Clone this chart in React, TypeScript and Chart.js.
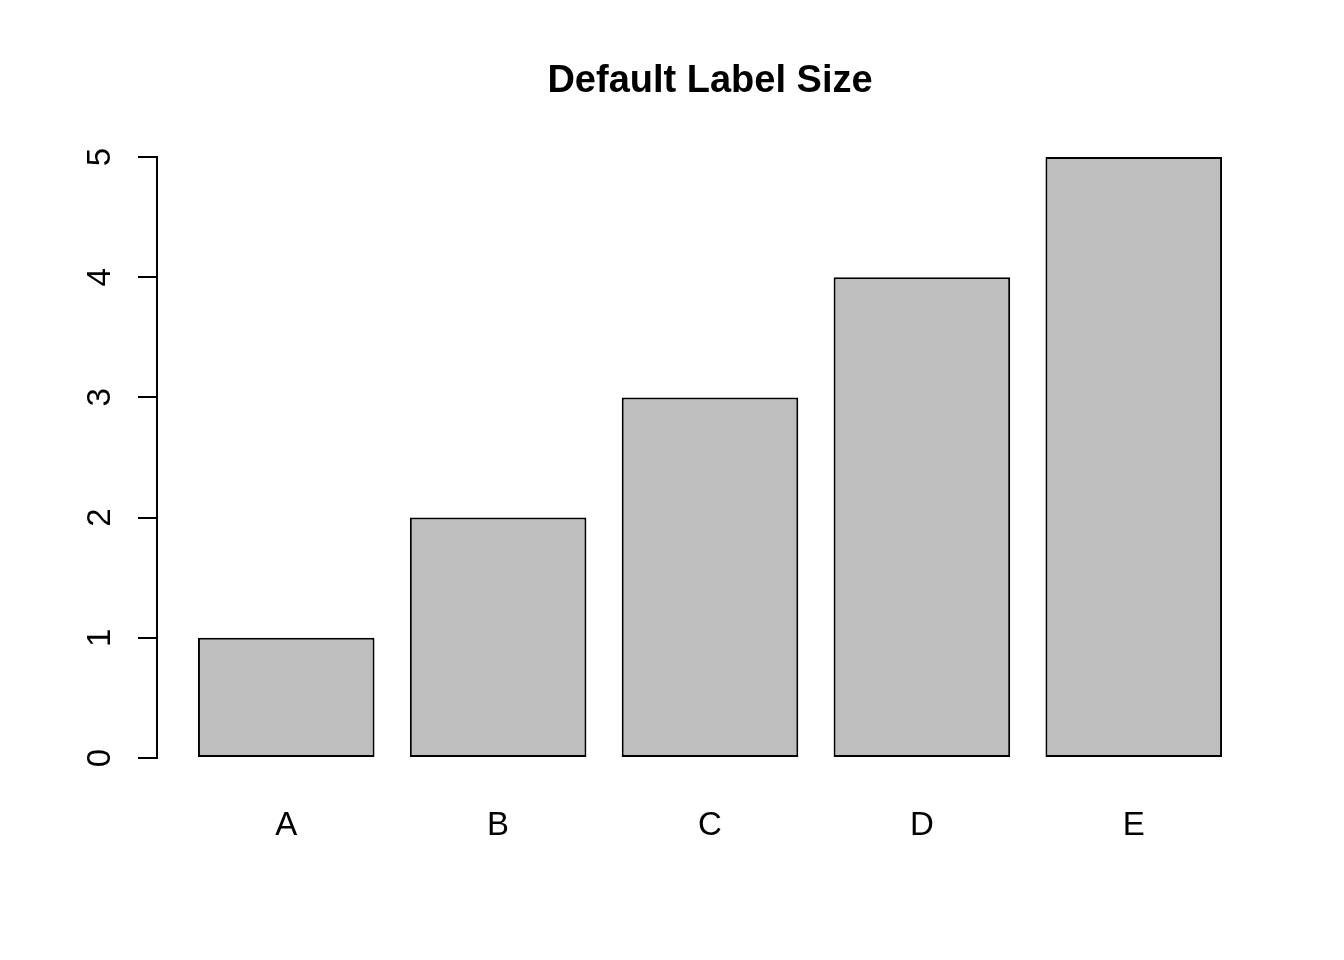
import { useEffect, useRef } from 'react';
import { Chart, registerables } from 'chart.js';

Chart.register(...registerables);

const titleText = 'Default Label Size';
const categories = ['A', 'B', 'C', 'D', 'E'];
const values = [1, 2, 3, 4, 5];
const yTicks = [0, 1, 2, 3, 4, 5];

// R barplot layout: width 1, space 0.2
const barWidth = 1;
const barSpace = 0.2;
const centers = categories.map((_, i) => barSpace + i * (barWidth + barSpace) + barWidth / 2);
const xLo = barSpace;
const xHi = barSpace + categories.length * (barWidth + barSpace) - barSpace;
const xPad = (xHi - xLo) * 0.04;

const FONT = "'Liberation Sans', Arial, sans-serif";

const titlePlugin = {
  id: 'rTitle',
  afterDraw(chart) {
    const { ctx, chartArea } = chart;
    ctx.save();
    ctx.font = `bold 38px ${FONT}`;
    ctx.fillStyle = '#000';
    ctx.textAlign = 'center';
    ctx.textBaseline = 'alphabetic';
    ctx.fillText(titleText, (chartArea.left + chartArea.right) / 2, 92);
    ctx.restore();
  },
};

const App = () => {
  const canvasRef = useRef(null);
  const chartRef = useRef(null);

  useEffect(() => {
    document.body.style.margin = '0';
    if (chartRef.current) chartRef.current.destroy();
    const ctx = canvasRef.current.getContext('2d');

    chartRef.current = new Chart(ctx, {
      type: 'bar',
      data: {
        datasets: [{
          data: values.map((v, i) => ({ x: centers[i], y: v })),
          backgroundColor: '#BEBEBE',
          borderColor: '#000',
          borderWidth: 2,
          borderSkipped: false,
          categoryPercentage: 1,
          barPercentage: barWidth / (barWidth + barSpace),
        }],
      },
      options: {
        animation: false,
        responsive: true,
        maintainAspectRatio: false,
        layout: { padding: { top: 157, right: 81, left: 0, bottom: 0 } },
        plugins: {
          legend: { display: false },
          tooltip: { enabled: false },
          title: { display: false },
        },
        scales: {
          x: {
            type: 'linear',
            min: xLo - xPad,
            max: xHi + xPad,
            offset: false,
            grid: { display: false, drawTicks: false },
            border: { display: false },
            afterBuildTicks: (scale) => {
              scale.ticks = centers.map((c) => ({ value: c }));
            },
            afterFit: (scale) => { scale.height = 202; },
            ticks: {
              autoSkip: false,
              maxRotation: 0,
              padding: 48,
              color: '#000',
              font: { family: FONT, size: 33 },
              callback: (_v, i) => categories[i],
            },
          },
          y: {
            min: yTicks[0],
            max: yTicks[yTicks.length - 1],
            afterBuildTicks: (scale) => {
              scale.ticks = yTicks.map((v) => ({ value: v }));
            },
            afterFit: (scale) => { scale.width = 157; },
            grid: {
              drawOnChartArea: false,
              drawTicks: true,
              tickLength: 19,
              color: '#000',
              lineWidth: 2,
            },
            border: { display: true, color: '#000', width: 2 },
            ticks: {
              minRotation: 90,
              maxRotation: 90,
              crossAlign: 'center',
              padding: 28,
              color: '#000',
              font: { family: FONT, size: 33 },
            },
          },
        },
      },
      plugins: [titlePlugin],
    });

    return () => {
      if (chartRef.current) {
        chartRef.current.destroy();
        chartRef.current = null;
      }
    };
  }, []);

  return (
    <div style={{ width: 1344, height: 960, position: 'relative', background: '#fff' }}>
      <canvas ref={canvasRef}></canvas>
    </div>
  );
};

export default App;
